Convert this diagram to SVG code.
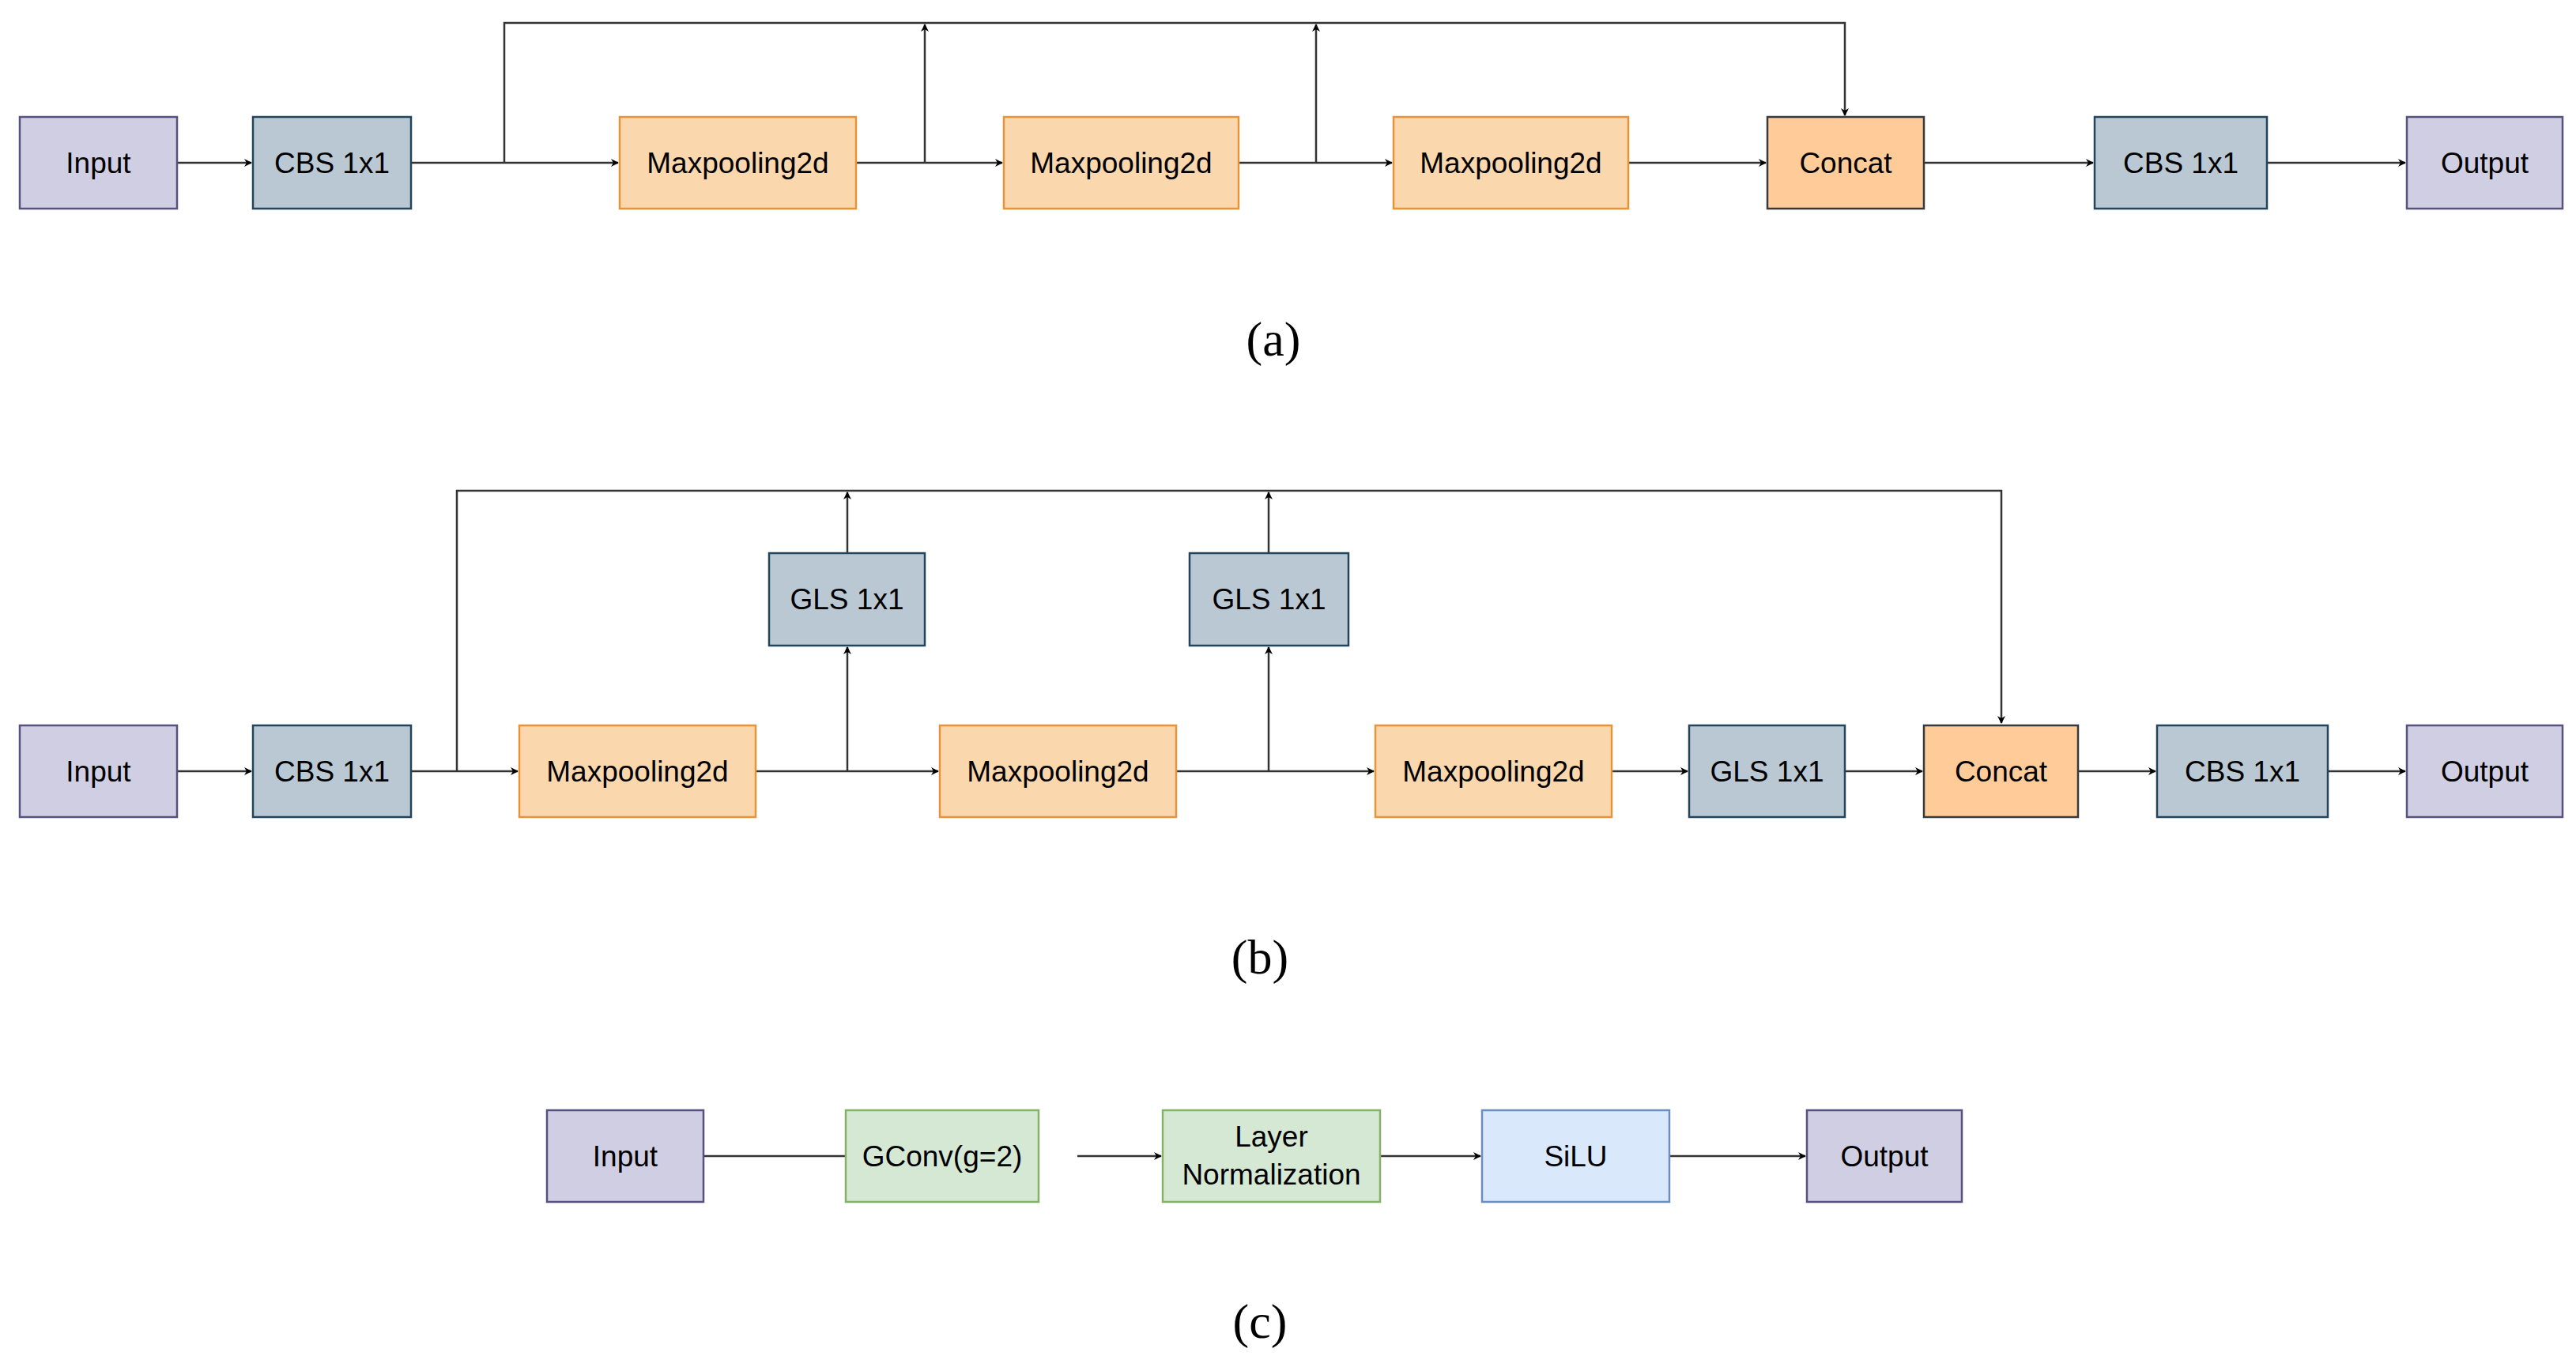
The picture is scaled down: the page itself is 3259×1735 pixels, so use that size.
<svg xmlns="http://www.w3.org/2000/svg" width="3259" height="1735" viewBox="0 0 3259 1735">
<style>
.t{font-family:"Liberation Sans",Arial,sans-serif;font-size:37px;text-anchor:middle;dominant-baseline:central;fill:#000}
.l{font-family:"Liberation Serif","Times New Roman",serif;font-size:62px;text-anchor:middle;fill:#000}
.pu{fill:#d0cee2;stroke:#56517e;stroke-width:2.5}
.bg{fill:#bac8d3;stroke:#23445d;stroke-width:2.5}
.or{fill:#fad7ac;stroke:#e8923a;stroke-width:2.5}
.cc{fill:#ffcc99;stroke:#36393d;stroke-width:2.5}
.gr{fill:#d5e8d4;stroke:#82b366;stroke-width:2.5}
.bl{fill:#dae8fc;stroke:#6c8ebf;stroke-width:2.5}
.c path{fill:none;stroke:#333;stroke-width:2.5}
</style>
<defs><marker id="a" markerWidth="10" markerHeight="10" refX="9" refY="5" orient="auto" markerUnits="userSpaceOnUse" viewBox="0 0 10 10"><path d="M0,0 L10,5 L0,10 L3,5 Z" fill="#000"/></marker></defs>
<g class="c">
<path d="M224,206H318" marker-end="url(#a)"/>
<path d="M520,206H782" marker-end="url(#a)"/>
<path d="M638,206V29H2334V146" marker-end="url(#a)"/>
<path d="M1083,206H1268" marker-end="url(#a)"/>
<path d="M1170,206V31" marker-end="url(#a)"/>
<path d="M1567,206H1761" marker-end="url(#a)"/>
<path d="M1665,206V31" marker-end="url(#a)"/>
<path d="M2060,206H2234" marker-end="url(#a)"/>
<path d="M2434,206H2648" marker-end="url(#a)"/>
<path d="M2868,206H3043" marker-end="url(#a)"/>
<path d="M224,976H318" marker-end="url(#a)"/>
<path d="M520,976H655" marker-end="url(#a)"/>
<path d="M578,976V621H2532V915" marker-end="url(#a)"/>
<path d="M956,976H1187" marker-end="url(#a)"/>
<path d="M1072,976V819" marker-end="url(#a)"/>
<path d="M1072,700V623" marker-end="url(#a)"/>
<path d="M1488,976H1738" marker-end="url(#a)"/>
<path d="M1605,976V819" marker-end="url(#a)"/>
<path d="M1605,700V623" marker-end="url(#a)"/>
<path d="M2039,976H2135" marker-end="url(#a)"/>
<path d="M2334,976H2432" marker-end="url(#a)"/>
<path d="M2629,976H2727" marker-end="url(#a)"/>
<path d="M2945,976H3043" marker-end="url(#a)"/>
<path d="M890,1463H1070"/>
<path d="M1363,1463H1469" marker-end="url(#a)"/>
<path d="M1746,1463H1873" marker-end="url(#a)"/>
<path d="M2112,1463H2284" marker-end="url(#a)"/>
</g>
<g id="a-input"><rect class="pu" x="25" y="148" width="199" height="116"/><text class="t" x="124.5" y="206">Input</text></g>
<g id="a-cbs1"><rect class="bg" x="320" y="148" width="200" height="116"/><text class="t" x="420" y="206">CBS 1x1</text></g>
<g id="a-mp1"><rect class="or" x="784" y="148" width="299" height="116"/><text class="t" x="933.5" y="206">Maxpooling2d</text></g>
<g id="a-mp2"><rect class="or" x="1270" y="148" width="297" height="116"/><text class="t" x="1418.5" y="206">Maxpooling2d</text></g>
<g id="a-mp3"><rect class="or" x="1763" y="148" width="297" height="116"/><text class="t" x="1911.5" y="206">Maxpooling2d</text></g>
<g id="a-concat"><rect class="cc" x="2236" y="148" width="198" height="116"/><text class="t" x="2335" y="206">Concat</text></g>
<g id="a-cbs2"><rect class="bg" x="2650" y="148" width="218" height="116"/><text class="t" x="2759" y="206">CBS 1x1</text></g>
<g id="a-output"><rect class="pu" x="3045" y="148" width="197" height="116"/><text class="t" x="3143.5" y="206">Output</text></g>
<text class="l" x="1611" y="450">(a)</text>
<g id="b-input"><rect class="pu" x="25" y="918" width="199" height="116"/><text class="t" x="124.5" y="976">Input</text></g>
<g id="b-cbs1"><rect class="bg" x="320" y="918" width="200" height="116"/><text class="t" x="420" y="976">CBS 1x1</text></g>
<g id="b-mp1"><rect class="or" x="657" y="918" width="299" height="116"/><text class="t" x="806.5" y="976">Maxpooling2d</text></g>
<g id="b-mp2"><rect class="or" x="1189" y="918" width="299" height="116"/><text class="t" x="1338.5" y="976">Maxpooling2d</text></g>
<g id="b-mp3"><rect class="or" x="1740" y="918" width="299" height="116"/><text class="t" x="1889.5" y="976">Maxpooling2d</text></g>
<g id="b-gls3"><rect class="bg" x="2137" y="918" width="197" height="116"/><text class="t" x="2235.5" y="976">GLS 1x1</text></g>
<g id="b-concat"><rect class="cc" x="2434" y="918" width="195" height="116"/><text class="t" x="2531.5" y="976">Concat</text></g>
<g id="b-cbs2"><rect class="bg" x="2729" y="918" width="216" height="116"/><text class="t" x="2837" y="976">CBS 1x1</text></g>
<g id="b-output"><rect class="pu" x="3045" y="918" width="197" height="116"/><text class="t" x="3143.5" y="976">Output</text></g>
<g id="b-gls1"><rect class="bg" x="973" y="700" width="197" height="117"/><text class="t" x="1071.5" y="758">GLS 1x1</text></g>
<g id="b-gls2"><rect class="bg" x="1505" y="700" width="201" height="117"/><text class="t" x="1605.5" y="758">GLS 1x1</text></g>
<text class="l" x="1594" y="1232">(b)</text>
<g id="c-input"><rect class="pu" x="692" y="1405" width="198" height="116"/><text class="t" x="791" y="1463">Input</text></g>
<g id="c-gconv"><rect class="gr" x="1070" y="1405" width="244" height="116"/><text class="t" x="1192" y="1463">GConv(g=2)</text></g>
<g id="c-ln"><rect class="gr" x="1471" y="1405" width="275" height="116"/><text class="t" x="1608.5" y="1438">Layer</text><text class="t" x="1608.5" y="1486">Normalization</text></g>
<g id="c-silu"><rect class="bl" x="1875" y="1405" width="237" height="116"/><text class="t" x="1993.5" y="1463">SiLU</text></g>
<g id="c-output"><rect class="pu" x="2286" y="1405" width="196" height="116"/><text class="t" x="2384" y="1463">Output</text></g>
<text class="l" x="1594" y="1693">(c)</text>
</svg>
